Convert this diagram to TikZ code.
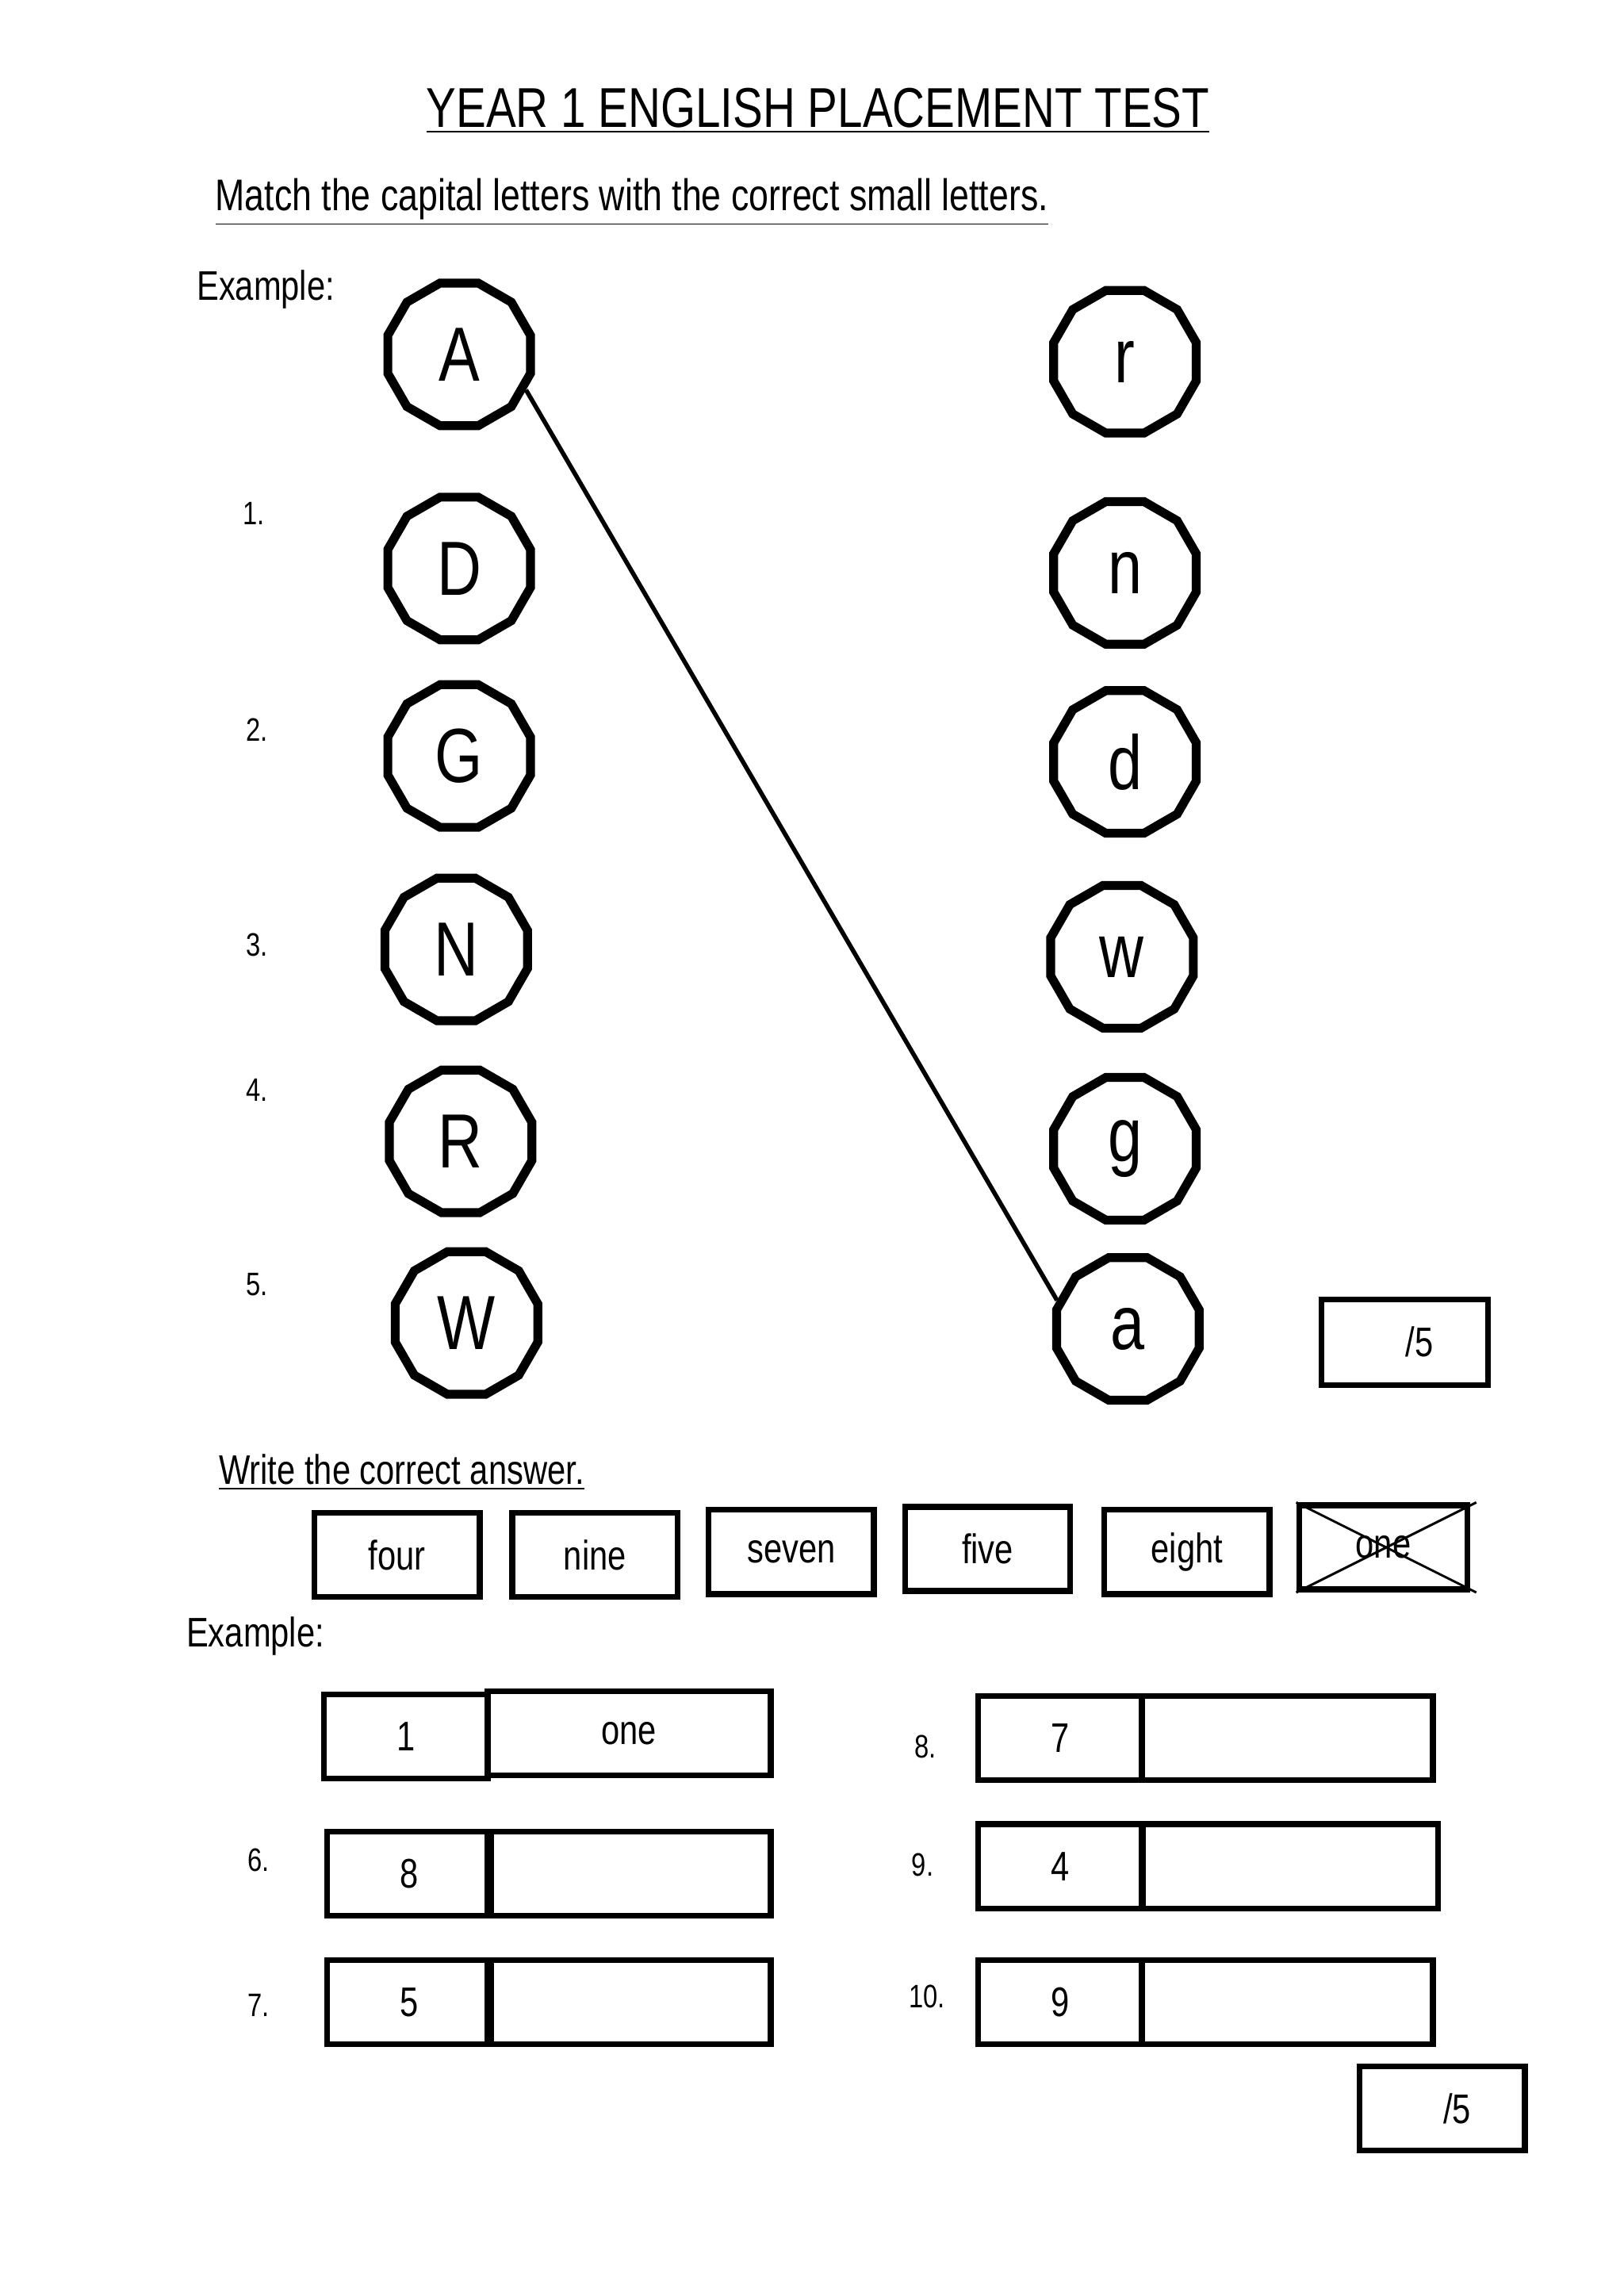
\documentclass[tikz,border=0pt]{standalone}
\usepackage{fontspec}
\setmainfont{Liberation Sans}[FakeStretch=0.8]
\usetikzlibrary{shapes.geometric}
\begin{document}
\begin{tikzpicture}[x=0.5pt,y=-0.5pt,
  oct/.style={regular polygon,regular polygon sides=12,draw,line width=3pt,minimum size=100*0.5pt,inner sep=0pt,font=\fontsize{26}{26}\selectfont},
  bx/.style={draw,line width=2pt},
  lbl/.style={font=\fontsize{11}{11}\selectfont},
  wt/.style={font=\fontsize{14}{14}\selectfont}]
\useasboundingbox (0,0) rectangle (1100,1555);
\node (title) at (554,75) {\fontsize{19}{19}\selectfont\underline{YEAR 1 ENGLISH PLACEMENT TEST}};
\node (sub) at (428,137) {\fontsize{15}{15}\selectfont\underline{Match the capital letters with the correct small letters.}};
\node[wt] (ex1) at (180,196) {Example:};
\foreach \n/\x/\y in {A/311/240,D/311/385,G/311/512,N/309/643,R/312/773,W/316/896,r/762/245,n/762/388,d/762/516,w/760/648,g/762/778,a/764/900}
  \node[oct] (\n) at (\x,\y) {\n};
\foreach \t/\x/\y [count=\i] in {1./172/348,2./174/494,3./174/640,4./174/738,5./174/870}
  \node[lbl] (m\i) at (\x,\y) {\t};
\draw[line width=1.5pt] (A.-28) -- (a.158);
\node[bx,minimum width=56.5pt,minimum height=29pt,wt] (s1) at (951.5,909) {\hspace*{10pt}/5};
\node (wr) at (272,997) {\fontsize{14}{14}\selectfont\underline{Write the correct answer.}};
\foreach \w/\x/\y in {four/269/1053,nine/403/1053,seven/536/1051,five/669/1049,eight/804/1051}
  \node[bx,minimum width=56pt,minimum height=28.5pt,wt] (w\w) at (\x,\y) {\w};
\node[bx,minimum width=57pt,minimum height=28.5pt,wt] (wone) at (937,1048) {one};
\draw[line width=0.8pt] (wone.north west) -- ([xshift=2pt]wone.south east);
\draw[line width=0.8pt] (wone.south west) -- ([xshift=2pt]wone.north east);
\node[wt] (ex2) at (173,1108) {Example:};
\tikzset{nb/.style={bx,minimum width=55.5pt,minimum height=28.5pt,wt},ab/.style={bx,minimum width=96pt,minimum height=28.5pt,wt}}
\node[nb] (n0) at (275,1176) {1};
\node[ab] (a0) at (426,1174) {one};
\node[nb] (n6) at (277,1269) {8};
\node[ab] (a6) at (426,1269) {};
\node[nb] (n7) at (277,1356) {5};
\node[ab] (a7) at (426,1356) {};
\node[nb] (n8) at (718,1177) {7};
\node[ab,minimum width=98.5pt] (a8) at (872,1177) {};
\node[nb] (n9) at (718,1264) {4};
\node[ab,minimum width=100pt] (a9) at (874,1264) {};
\node[nb] (n10) at (718,1356) {9};
\node[ab,minimum width=98.5pt] (a10) at (872,1356) {};
\foreach \t/\x/\y [count=\i] in {6./175/1260,7./175/1358,8./627/1183,9./625/1263,10./628/1352}
  \node[lbl] (q\i) at (\x,\y) {\t};
\node[bx,minimum width=56pt,minimum height=28.5pt,wt] (s2) at (977,1428) {\hspace*{10pt}/5};
\end{tikzpicture}
\end{document}
